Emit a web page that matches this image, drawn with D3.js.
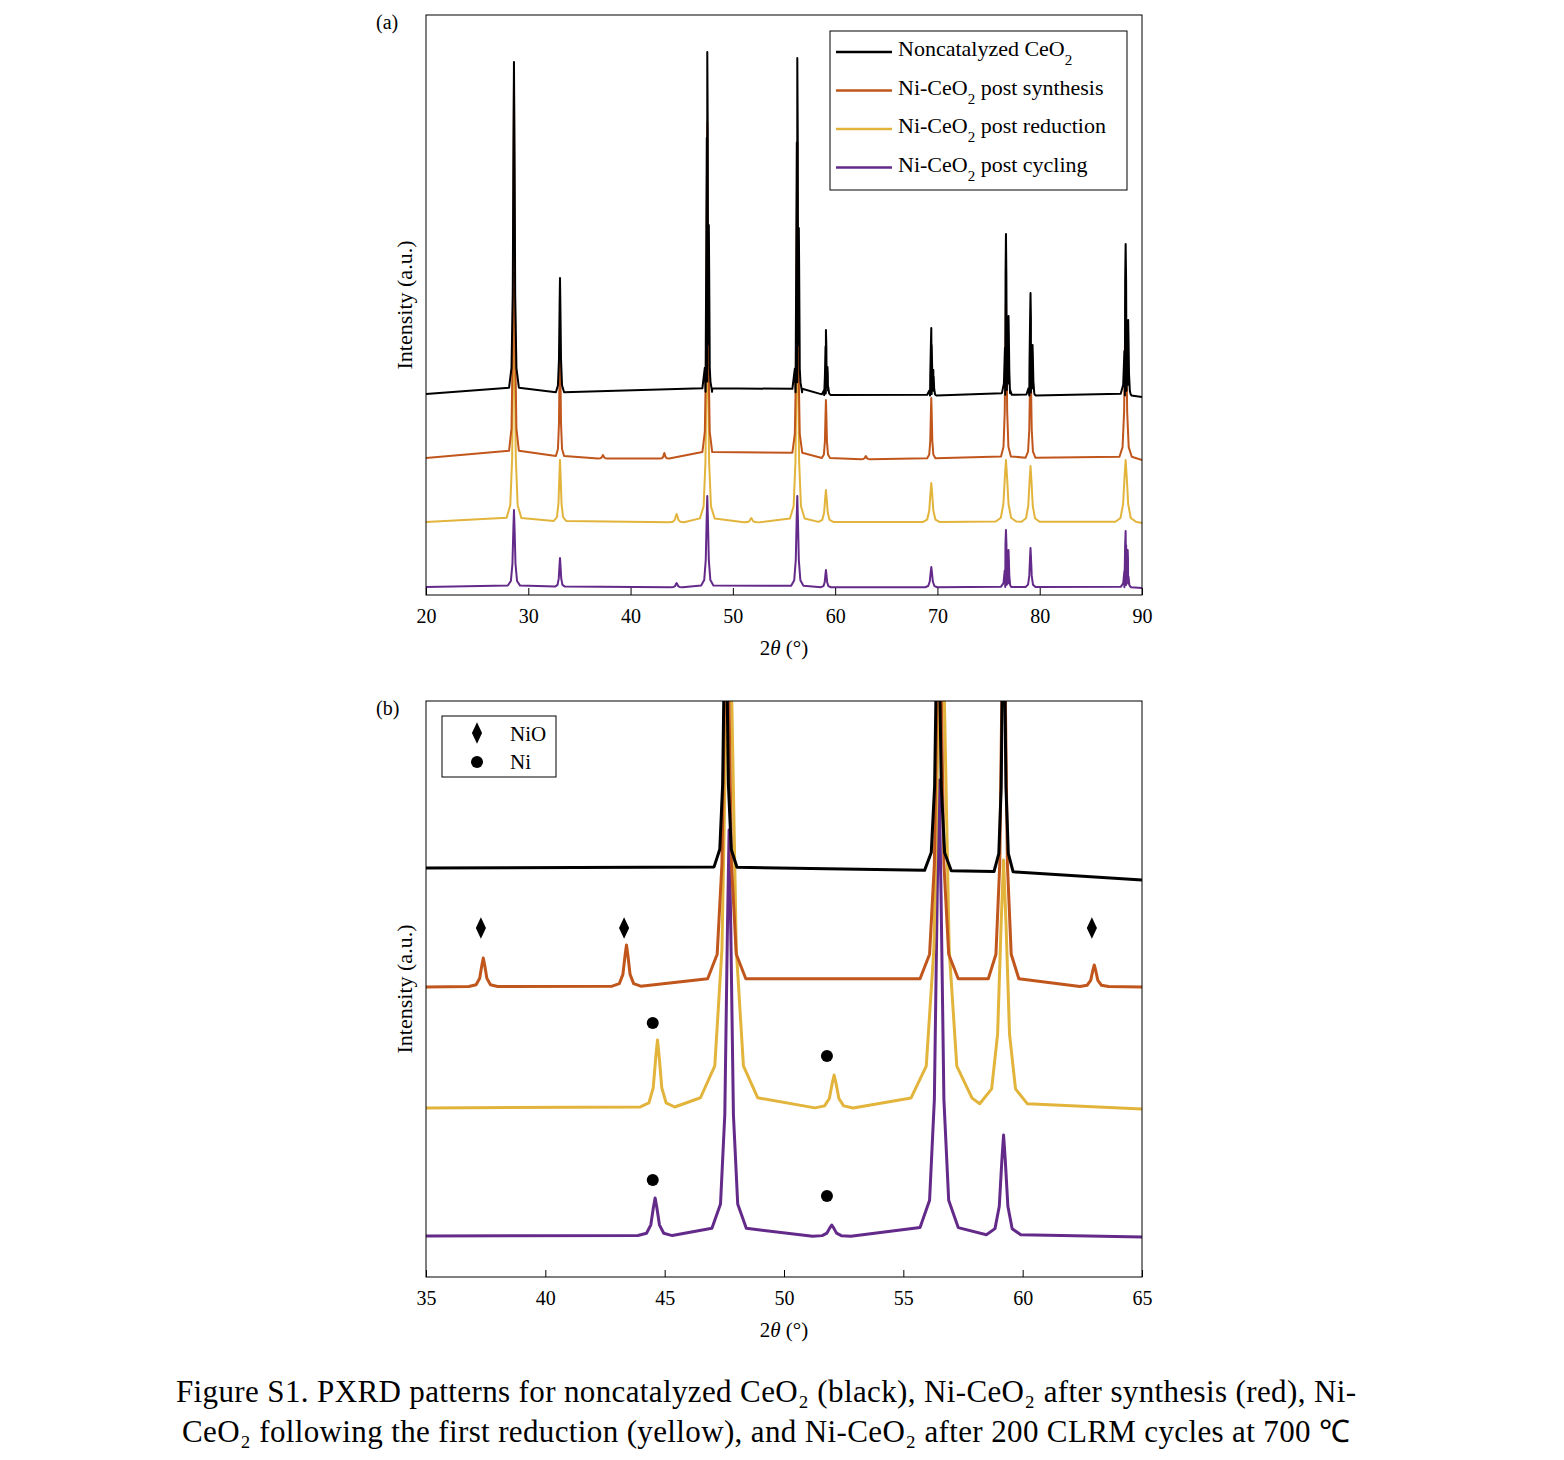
<!DOCTYPE html>
<html><head><meta charset="utf-8">
<script src="https://cdn.jsdelivr.net/npm/d3@7"></script>
<style>body{margin:0;background:#fff}text{font-family:"Liberation Serif","Times New Roman",serif}</style>
</head><body>
<script>
// ---- Data (intensities in arbitrary units) ----
const seriesNames = ["Noncatalyzed CeO","Ni-CeO","Ni-CeO","Ni-CeO"];
const seriesSuffix = ["","post synthesis","post reduction","post cycling"];
const colors = ["#000000","#c0561c","#e2b43c","#642a8a"];
const ticksA = [20,30,40,50,60,70,80,90];
const ticksB = [35,40,45,50,55,60,65];
// panel (a): baselines [start,end] and peaks [2theta, height, halfwidth]
const baseA = [[201,198],[137,135],[73,72],[8,7]];
const peaksA = [
 [[28.6,533,.12],[33.1,317,.1],[47.5,543,.12],[47.65,370,.08],[56.3,537,.12],[56.45,367,.08],[59.1,265,.1],[59.25,228,.08],[69.4,267,.1],[69.6,225,.08],[76.7,361,.1],[76.95,279,.08],[79.1,302,.1],[79.3,250,.08],[88.4,351,.12],[88.65,275,.08]],
 [[28.6,510,.12],[33.1,253,.1],[37.3,140,.12],[43.3,142,.12],[47.5,473,.12],[56.3,452,.12],[59.1,195,.1],[63.0,139,.12],[69.4,197,.1],[76.7,295,.12],[79.1,235,.12],[88.4,295,.15]],
 [[28.6,285,.18],[33.1,135,.15],[44.5,81,.18],[47.5,273,.18],[51.8,77,.18],[56.3,275,.18],[59.1,105,.18],[69.4,112,.2],[76.7,135,.25],[79.1,129,.22],[88.4,135,.25]],
 [[28.6,85,.15],[33.1,37,.12],[44.5,12,.15],[47.5,99,.15],[56.3,99,.15],[59.1,25,.12],[69.4,28,.15],[76.7,65,.12],[76.95,45,.08],[79.1,47,.12],[88.4,64,.12],[88.6,45,.08]]
];
// panel (b)
const baseB = [[409,397],[290,290],[169,168],[41,40]];
const peaksB = [
 [[47.55,700,.12],[56.45,700,.14],[59.2,700,.1]],
 [[37.4,319,.15],[43.4,332,.15],[47.6,700,.2],[56.5,700,.2],[59.2,700,.16],[63.0,312,.15]],
 [[44.7,237,.18],[47.7,700,.3],[52.1,202,.2],[56.6,700,.32],[59.2,417,.25]],
 [[44.6,79,.18],[47.7,447,.18],[52.0,52,.2],[56.5,497,.2],[59.2,142,.18]]
];
const nioMarks = [[37.3,349],[43.3,349],[62.9,349]];
const niMarks = [[44.5,254],[51.8,221],[44.5,97],[51.8,81]];

const W=1564,H=1460;
const svg=d3.select("body").append("svg").attr("width",W).attr("height",H);
// peak outline template: offsets in half-widths, fraction of peak height above baseline
const tplOff=[-4,-2,-1,-0.4,0,0.4,1,2,4];
const tplFrac=[0.02,0.08,0.3,0.75,1,0.75,0.3,0.08,0.02];

function buildPts(base,peaks,x0,x1){
  const bAt=x=>base[0]+(base[1]-base[0])*(x-x0)/(x1-x0);
  const pts=[[x0,bAt(x0)],[x1,bAt(x1)]];
  peaks.forEach(([p,h,w])=>{
    tplOff.forEach((o,k)=>{const xx=p+o*w;pts.push([xx,bAt(xx)+(h-bAt(p))*tplFrac[k]]);});
  });
  pts.sort((a,b)=>a[0]-b[0]);
  return pts;
}

function panel(cfg){
  const {L,R,T,B,dom,ticks,base,peaks,lw,id,lab}=cfg;
  const x=d3.scaleLinear().domain(dom).range([L,R]);
  const y=d3.scaleLinear().domain([0,B-T]).range([B,T]);
  svg.append("clipPath").attr("id",id).append("rect").attr("x",L).attr("y",T).attr("width",R-L).attr("height",B-T);
  const g=svg.append("g").attr("clip-path",`url(#${id})`);
  const line=d3.line().x(d=>x(d[0])).y(d=>y(d[1]));
  for(let i=3;i>=0;i--){
    g.append("path").attr("d",line(buildPts(base[i],peaks[i],dom[0],dom[1])))
     .attr("fill","none").attr("stroke",colors[i]).attr("stroke-width",lw).attr("stroke-linejoin","round");
  }
  svg.append("rect").attr("x",L).attr("y",T).attr("width",R-L).attr("height",B-T).attr("fill","none").attr("stroke","#000").attr("stroke-width",1);
  const ax=svg.append("g").attr("transform",`translate(0,${B})`).call(d3.axisBottom(x).tickValues(ticks).tickSize(-7).tickPadding(14).tickFormat(d3.format("d")));
  ax.select(".domain").remove();
  ax.selectAll("text").attr("font-size",20).attr("font-family","Liberation Serif");
  const xt=svg.append("text").attr("x",(L+R)/2).attr("y",B+60).attr("text-anchor","middle").attr("font-size",21);
  xt.append("tspan").text("2");xt.append("tspan").attr("font-style","italic").text("θ");xt.append("tspan").text(" (°)");
  svg.append("text").attr("transform",`translate(${L-14},${(T+B)/2}) rotate(-90)`).attr("text-anchor","middle").attr("font-size",22).text("Intensity (a.u.)");
  svg.append("text").attr("x",L-50).attr("y",T+14).attr("font-size",20).text(lab);
  return {x,y};
}

panel({L:426,R:1142,T:15,B:595,dom:[20,90],ticks:ticksA,base:baseA,peaks:peaksA,lw:2,id:"ca",lab:"(a)"});
const pb=panel({L:426,R:1142,T:701,B:1277,dom:[35,65],ticks:ticksB,base:baseB,peaks:peaksB,lw:3,id:"cb",lab:"(b)"});

// legend a
svg.append("rect").attr("x",830).attr("y",31).attr("width",297).attr("height",159).attr("fill","#fff").attr("stroke","#000");
for(let i=0;i<4;i++){
  const yy=52+i*38.5;
  svg.append("line").attr("x1",836).attr("x2",892).attr("y1",yy).attr("y2",yy).attr("stroke",colors[i]).attr("stroke-width",2.5);
  const t=svg.append("text").attr("x",898).attr("y",yy+4).attr("font-size",22);
  t.append("tspan").text(seriesNames[i]);
  t.append("tspan").attr("dy",9).attr("font-size",15).text("2");
  if(seriesSuffix[i]) t.append("tspan").attr("dy",-9).text(" "+seriesSuffix[i]);
}
// markers b
const sym=d3.symbol();
nioMarks.forEach(d=>svg.append("path").attr("d",sym.type(d3.symbolDiamond).size(110)()).attr("transform",`translate(${pb.x(d[0])},${pb.y(d[1])}) scale(0.9,1.1)`).attr("fill","#000"));
niMarks.forEach(d=>svg.append("circle").attr("cx",pb.x(d[0])).attr("cy",pb.y(d[1])).attr("r",6).attr("fill","#000"));
// legend b
svg.append("rect").attr("x",442).attr("y",716).attr("width",114).attr("height",61).attr("fill","#fff").attr("stroke","#000");
svg.append("path").attr("d",sym.type(d3.symbolDiamond).size(110)()).attr("transform","translate(477,733) scale(0.9,1.1)");
svg.append("circle").attr("cx",477).attr("cy",762).attr("r",6);
svg.append("text").attr("x",510).attr("y",741).attr("font-size",21).text("NiO");
svg.append("text").attr("x",510).attr("y",769).attr("font-size",21).text("Ni");
// caption
svg.append("text").attr("x",766).attr("y",1402).attr("text-anchor","middle").attr("font-size",31).attr("textLength",1180).text("Figure S1. PXRD patterns for noncatalyzed CeO₂ (black), Ni-CeO₂ after synthesis (red), Ni-");
svg.append("text").attr("x",766).attr("y",1442).attr("text-anchor","middle").attr("font-size",31).attr("textLength",1168).text("CeO₂ following the first reduction (yellow), and Ni-CeO₂ after 200 CLRM cycles at 700 ℃");
</script>
</body></html>
